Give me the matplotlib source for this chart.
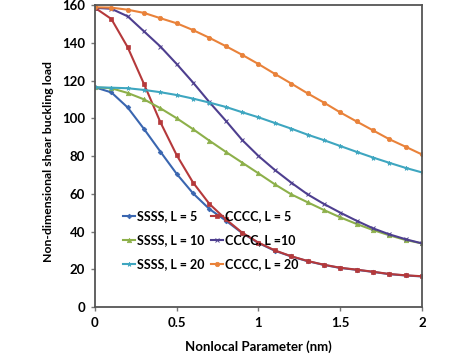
import matplotlib
matplotlib.use("Agg")
import matplotlib.pyplot as plt
import numpy as np

x = [0.0, 0.1, 0.2, 0.3, 0.4, 0.5, 0.6, 0.7, 0.8, 0.9, 1.0,
     1.1, 1.2, 1.3, 1.4, 1.5, 1.6, 1.7, 1.8, 1.9, 2.0]

ssss_l5 = [116.4, 113.7, 105.7, 94.3, 82.3, 70.5, 60.2, 51.9, 45.8, 39.2, 33.9,
           29.8, 26.8, 24.3, 22.3, 20.7, 19.7, 18.6, 17.4, 16.7, 16.2]
cccc_l5 = [158.5, 152.6, 137.6, 118.1, 97.9, 80.4, 65.9, 54.6, 46.5, 39.4, 34.1,
           30.0, 26.9, 24.4, 22.4, 20.8, 19.8, 18.7, 17.5, 16.8, 16.3]
ssss_l10 = [116.4, 115.9, 113.4, 110.0, 105.3, 100.0, 94.2, 88.1, 82.2, 76.5, 70.8,
            65.0, 59.7, 55.5, 51.4, 47.5, 44.0, 40.8, 38.0, 35.5, 33.7]
cccc_l10 = [158.5, 158.0, 154.0, 146.0, 138.0, 128.7, 118.9, 108.5, 98.7, 88.5, 80.0,
            72.6, 65.9, 59.7, 54.6, 50.0, 45.7, 41.7, 38.5, 35.9, 33.7]
ssss_l20 = [116.4, 116.2, 115.9, 115.0, 113.8, 112.3, 110.4, 108.3, 106.0, 103.2, 100.5,
            97.5, 94.5, 91.3, 88.4, 85.3, 82.2, 79.2, 76.4, 73.7, 71.3]
cccc_l20 = [158.8, 158.6, 157.5, 155.8, 153.0, 150.3, 146.7, 142.6, 138.2, 133.6, 128.7,
            123.5, 118.4, 113.2, 108.3, 103.1, 98.3, 93.6, 88.9, 84.9, 80.8]

labels = ["SSSS, L = 5", "CCCC, L = 5", "SSSS, L = 10", "CCCC, L =10",
          "SSSS, L = 20", "CCCC, L = 20"]
x_ticks = [0, 0.5, 1, 1.5, 2]
x_tick_labels = ["0", "0.5", "1", "1.5", "2"]
y_ticks = [0, 20, 40, 60, 80, 100, 120, 140, 160]

plt.rcParams['font.family'] = ['Lato', 'DejaVu Sans']
plt.rcParams['font.weight'] = 'bold'

fig = plt.figure(figsize=(4.74, 3.57), dpi=100)
ax = fig.add_axes([0.2004, 0.140, 0.6899, 0.846])

styles = [
    (ssss_l5, "#3A66B0", "D", 2.4, 0.5),
    (cccc_l5, "#B5393B", "s", 3.2, 0.5),
    (ssss_l10, "#8DB04A", "^", 3.2, 0.5),
    (cccc_l10, "#4E3F8F", "x", 2.6, 0.7),
    (ssss_l20, "#3EA6C0", "*", 3.4, 0.5),
    (cccc_l20, "#E9823A", "o", 3.2, 0.5),
]
handles = []
for (vals, col, mk, ms, mew), lab in zip(styles, labels):
    h, = ax.plot(x, vals, color=col, marker=mk, markersize=ms, linewidth=1.5,
                 markeredgewidth=mew, label=lab)
    handles.append(h)

ax.set_xlim(0, 2)
ax.set_ylim(0, 160)
ax.set_xticks(x_ticks)
ax.set_xticklabels(x_tick_labels)
ax.set_yticks(y_ticks)
for s in ax.spines.values():
    s.set_color("#555555")
    s.set_linewidth(1.3)
ax.tick_params(direction="out", length=3, width=1, color="#777777",
               labelsize=9.5, pad=4)
for t in ax.get_xticklabels() + ax.get_yticklabels():
    t.set_fontweight("bold")

ax.set_xlabel("Nonlocal Parameter (nm)", fontsize=9.5, fontweight="bold", labelpad=8)
ax.set_ylabel("Non-dimensional shear buckling load", fontsize=8.8, fontweight="bold")
ax.yaxis.set_label_coords(-0.125, 0.48)

order = [0, 2, 4, 1, 3, 5]
ax.legend([handles[i] for i in order], [labels[i] for i in order], ncol=2,
          frameon=False, loc="lower left", bbox_to_anchor=(0.05, 0.085),
          handlelength=1.0, handletextpad=0.15, columnspacing=0.5, labelspacing=0.95,
          prop={'weight': 'bold', 'size': 9})

fig.savefig("out.png", dpi=100)
